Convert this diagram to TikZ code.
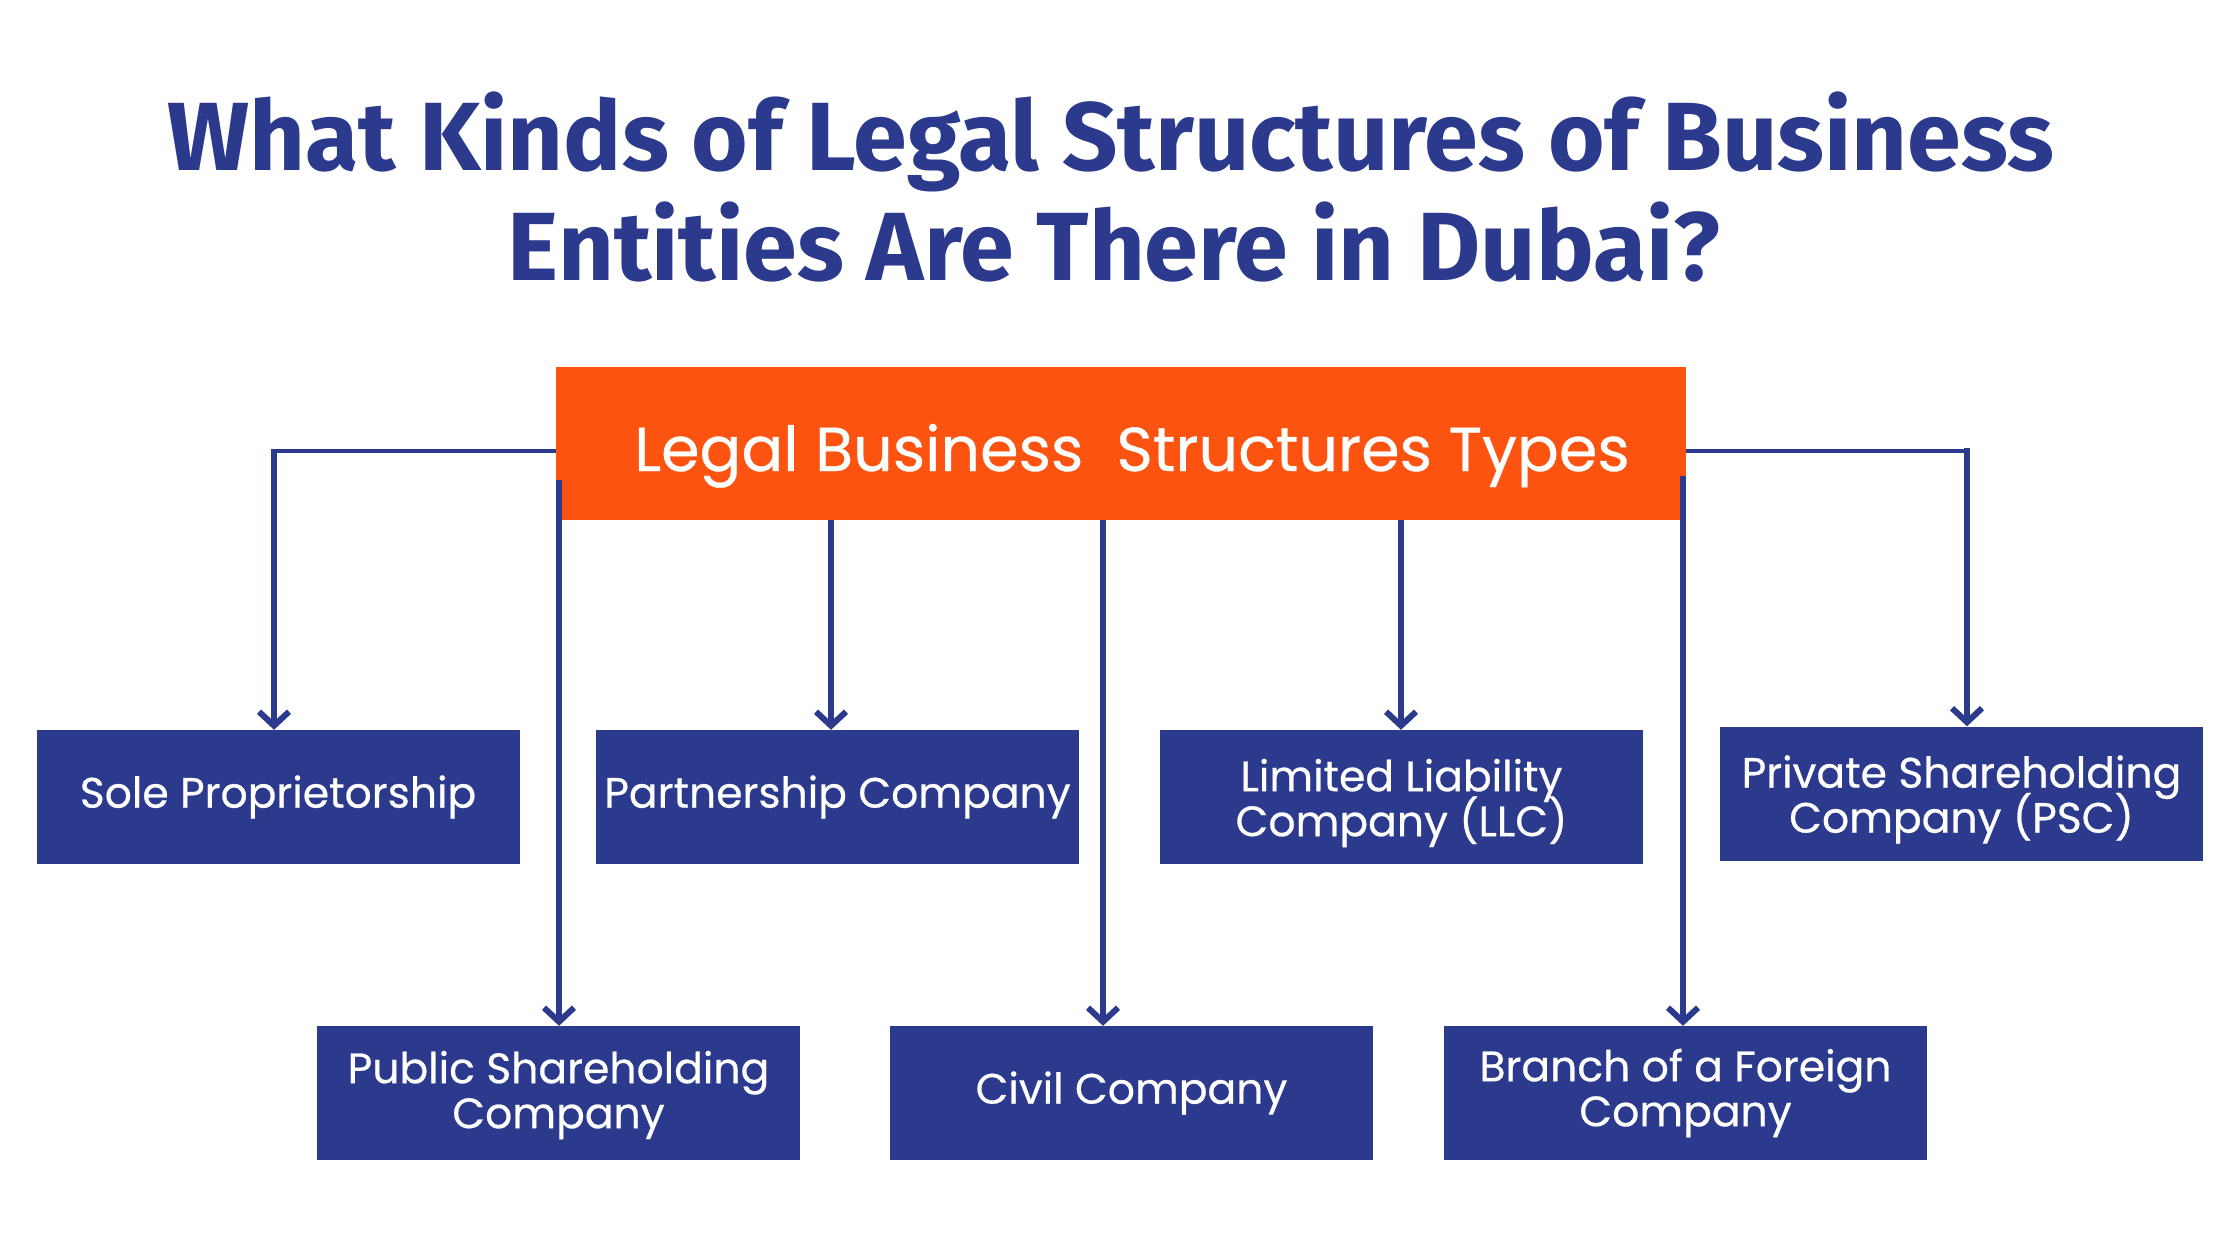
\documentclass[tikz,border=0pt]{standalone}
\usepackage{fontspec}
\setmainfont{Poppins}
\newfontfamily\boxfont{Poppins}[FakeBold=0.5]
\newfontfamily\titlefont{Fira Sans}
\usetikzlibrary{arrows.meta}
\definecolor{navy}{RGB}{43,58,140}
\definecolor{orng}{RGB}{252,83,16}
\begin{document}
\begin{tikzpicture}[x=1pt,y=-1pt,
  entity/.style={fill=navy, minimum width=483pt, minimum height=134pt, inner sep=0pt,
    text=white, align=center, font={\boxfont\fontsize{42.5}{45}\selectfont\lineskiplimit=-50pt}},
  etext/.style={inner sep=0pt, text=white, align=center, font={\boxfont\fontsize{42.5}{45}\selectfont\lineskiplimit=-50pt}},
  headbox/.style={fill=orng, minimum width=1130pt, minimum height=153pt, inner sep=0pt},
  headtext/.style={anchor=base, inner sep=0pt, text=white, font=\boxfont\fontsize{62}{70}\selectfont},
  titletext/.style={anchor=base, text=navy, inner sep=0pt, font=\titlefont\bfseries\fontsize{97}{110}\selectfont},
  vline/.style={draw=navy, line width=6pt, -{Straight Barb[length=14pt,width=30pt]}},
  hline/.style={draw=navy, line width=4pt}]
\fill[white] (0,0) rectangle (2240,1260);
\path[use as bounding box] (0,0) rectangle (2240,1260);
% title
\node[titletext] (t1) at (1111,171) {What Kinds of Legal Structures of Business};
\node[titletext] (t2) at (1114,280) {Entities Are There in Dubai?};
% head
\node[headbox] (head) at (1121,443.5) {};
\node[headtext] (headlabel) at (1132,471) {Legal Business\ \ Structures Types};
% entities
\node[entity] (sole) at (278,797) {Sole Proprietorship};
\node[entity] (partner) at (837.5,797) {Partnership Company};
\node[entity] (llc) at (1401.5,797) {};
\node[etext] (llcText) at ([yshift=-6pt]llc.center) {Limited Liability\\Company (LLC)};
\node[entity] (psc) at (1961.5,793.5) {};
\node[etext] (pscText) at ([yshift=-6pt]psc.center) {Private Shareholding\\Company (PSC)};
\node[entity] (public) at (558.5,1093) {};
\node[etext] (publicText) at ([yshift=-2pt]public.center) {Public Shareholding\\Company};
\node[entity] (civil) at (1131.5,1093) {Civil Company};
\node[entity] (branch) at (1685.5,1093) {Branch of a Foreign\\Company};
% connector points
\coordinate (cL) at (274,451);
\coordinate (cR) at (1967,451);
\coordinate (cPub) at (559,480);
\coordinate (cBr) at (1683,476);
\coordinate (cPa) at (831,520);
\coordinate (cCv) at (1103,520);
\coordinate (cLl) at (1401,520);
% connectors
\draw[hline] (head.west |- cL) -- ([xshift=-3pt]cL);
\draw[vline] ([yshift=2pt]cL) -- (cL |- sole.north);
\draw[hline] (head.east |- cR) -- ([xshift=3pt]cR);
\draw[vline] ([yshift=3pt]cR) -- (cR |- psc.north);
\draw[vline] (cPub) -- (cPub |- public.north);
\draw[vline] (cBr) -- (cBr |- branch.north);
\draw[vline] (cPa) -- (cPa |- partner.north);
\draw[vline] (cCv) -- (cCv |- civil.north);
\draw[vline] (cLl) -- (cLl |- llc.north);
\end{tikzpicture}
\end{document}
